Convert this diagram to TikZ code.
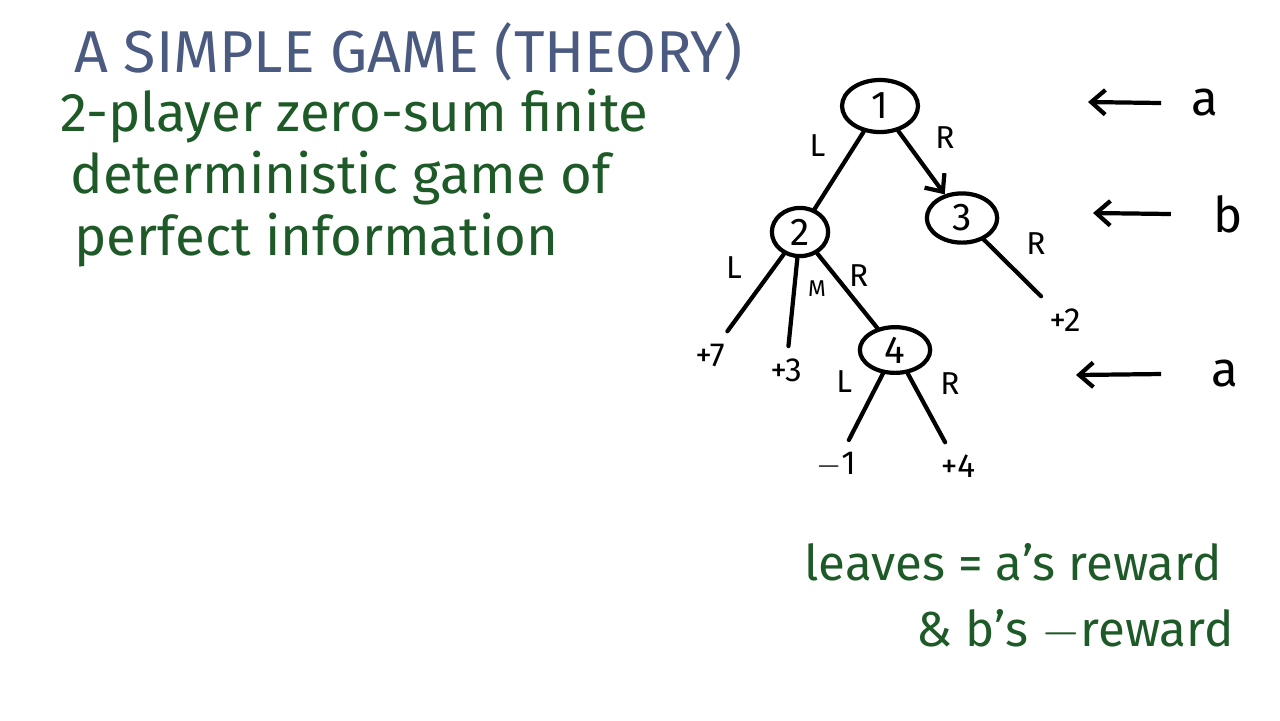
\documentclass[tikz,border=0pt]{standalone}
\usepackage{fontspec}
\setmainfont{Fira Sans}
\usetikzlibrary{shapes.geometric,arrows.meta}
\definecolor{titleblue}{HTML}{4A5A80}
\definecolor{inkgreen}{HTML}{1E5A28}
\begin{document}
\begin{tikzpicture}[x=0.01cm,y=-0.01cm,%
          state/.style={ellipse, draw, line width=1.2pt, inner sep=0pt, minimum width=18pt, minimum height=14pt, font=\fontsize{11}{11}\selectfont},
          edge/.style={line width=1.2pt, line cap=round},
          lbl/.style={font=\fontsize{9}{9}\selectfont},
          leaf/.style={font=\fontsize{9.5}{9.5}\selectfont},
          pointer/.style={line width=1.2pt, -{Straight Barb[length=4pt,width=7pt]}},
          note/.style={text=inkgreen, anchor=west, font=\fontsize{15.5}{18}\selectfont}]
          % frame
          \useasboundingbox (0,0) rectangle (1280,720);
          \node[anchor=west, text=titleblue, font=\fontsize{16.8}{17}\selectfont] (title) at (62,52) {A SIMPLE GAME (THEORY)};
          \node[note] (desc1) at (48,116) {2-player zero-sum finite};
          \node[note] (desc2) at (58,178) {deterministic game of};
          \node[note] (desc3) at (62,240) {perfect information};
          % tree
          \node[state, minimum width=21.6pt, minimum height=14.8pt] (s1) at (880,106) {1};
          \node[state, minimum width=16pt, minimum height=13.7pt] (s2) at (800,232) {2};
          \node[state, minimum width=20pt, minimum height=14pt] (s3) at (962,218) {3};
          \node[state, minimum width=20pt, minimum height=13pt] (s4) at (895,350) {4};
          \node[leaf] (v7) at (710,355) {+7};
          \node[leaf] (v3) at (786,370) {+3};
          \node[leaf] (v2) at (1065,320) {+2};
          \node[leaf] (vm1) at (836,465) {$-$1};
          \node[leaf] (v4) at (958,466) {+4};
          \draw[edge] (s1) -- (s2) node[lbl, midway, above left] {L};
          \draw[edge, -{Straight Barb[length=4pt,width=7pt]}] (s1) -- (s3) node[lbl, midway, above right] {R};
          \draw[edge] (s2) -- (v7) node[lbl, midway, above left] {L};
          \draw[edge] (s2) -- (v3) node[lbl, pos=0.35, right, font=\fontsize{6.5}{6.5}\selectfont] {M};
          \draw[edge] (s2) -- (s4) node[lbl, pos=0.3, right] {R};
          \draw[edge] (s3) -- (v2) node[lbl, midway, above right] {R};
          \draw[edge] (s4) -- (vm1) node[lbl, midway, above left] {L};
          \draw[edge] (s4) -- (v4) node[lbl, midway, above right] {R};
          % players
          \node[font=\fontsize{14}{14}\selectfont] (pa1) at (1205,103) {a};
          \node[font=\fontsize{14}{14}\selectfont] (pb) at (1228,214) {b};
          \node[font=\fontsize{14}{14}\selectfont] (pa2) at (1225,374) {a};
          \coordinate (t1) at (1088,102);
          \coordinate (t2) at (1093,213);
          \coordinate (t3) at (1076,375);
          \draw[pointer] (pa1.west) ++(-18,0) -- (t1);
          \draw[pointer] (pb.west) ++(-30,0) -- (t2);
          \draw[pointer] (pa2.west) ++(-38,0) -- (t3);
          % rewards
          \node[note, anchor=east, font=\fontsize{14}{16}\selectfont] (rw1) at (1234,562) {leaves = a's reward};
          \node[note, anchor=east, font=\fontsize{14}{16}\selectfont] (rw2) at (1246,630) {\& b's $-$reward};
        \end{tikzpicture}
\end{document}
